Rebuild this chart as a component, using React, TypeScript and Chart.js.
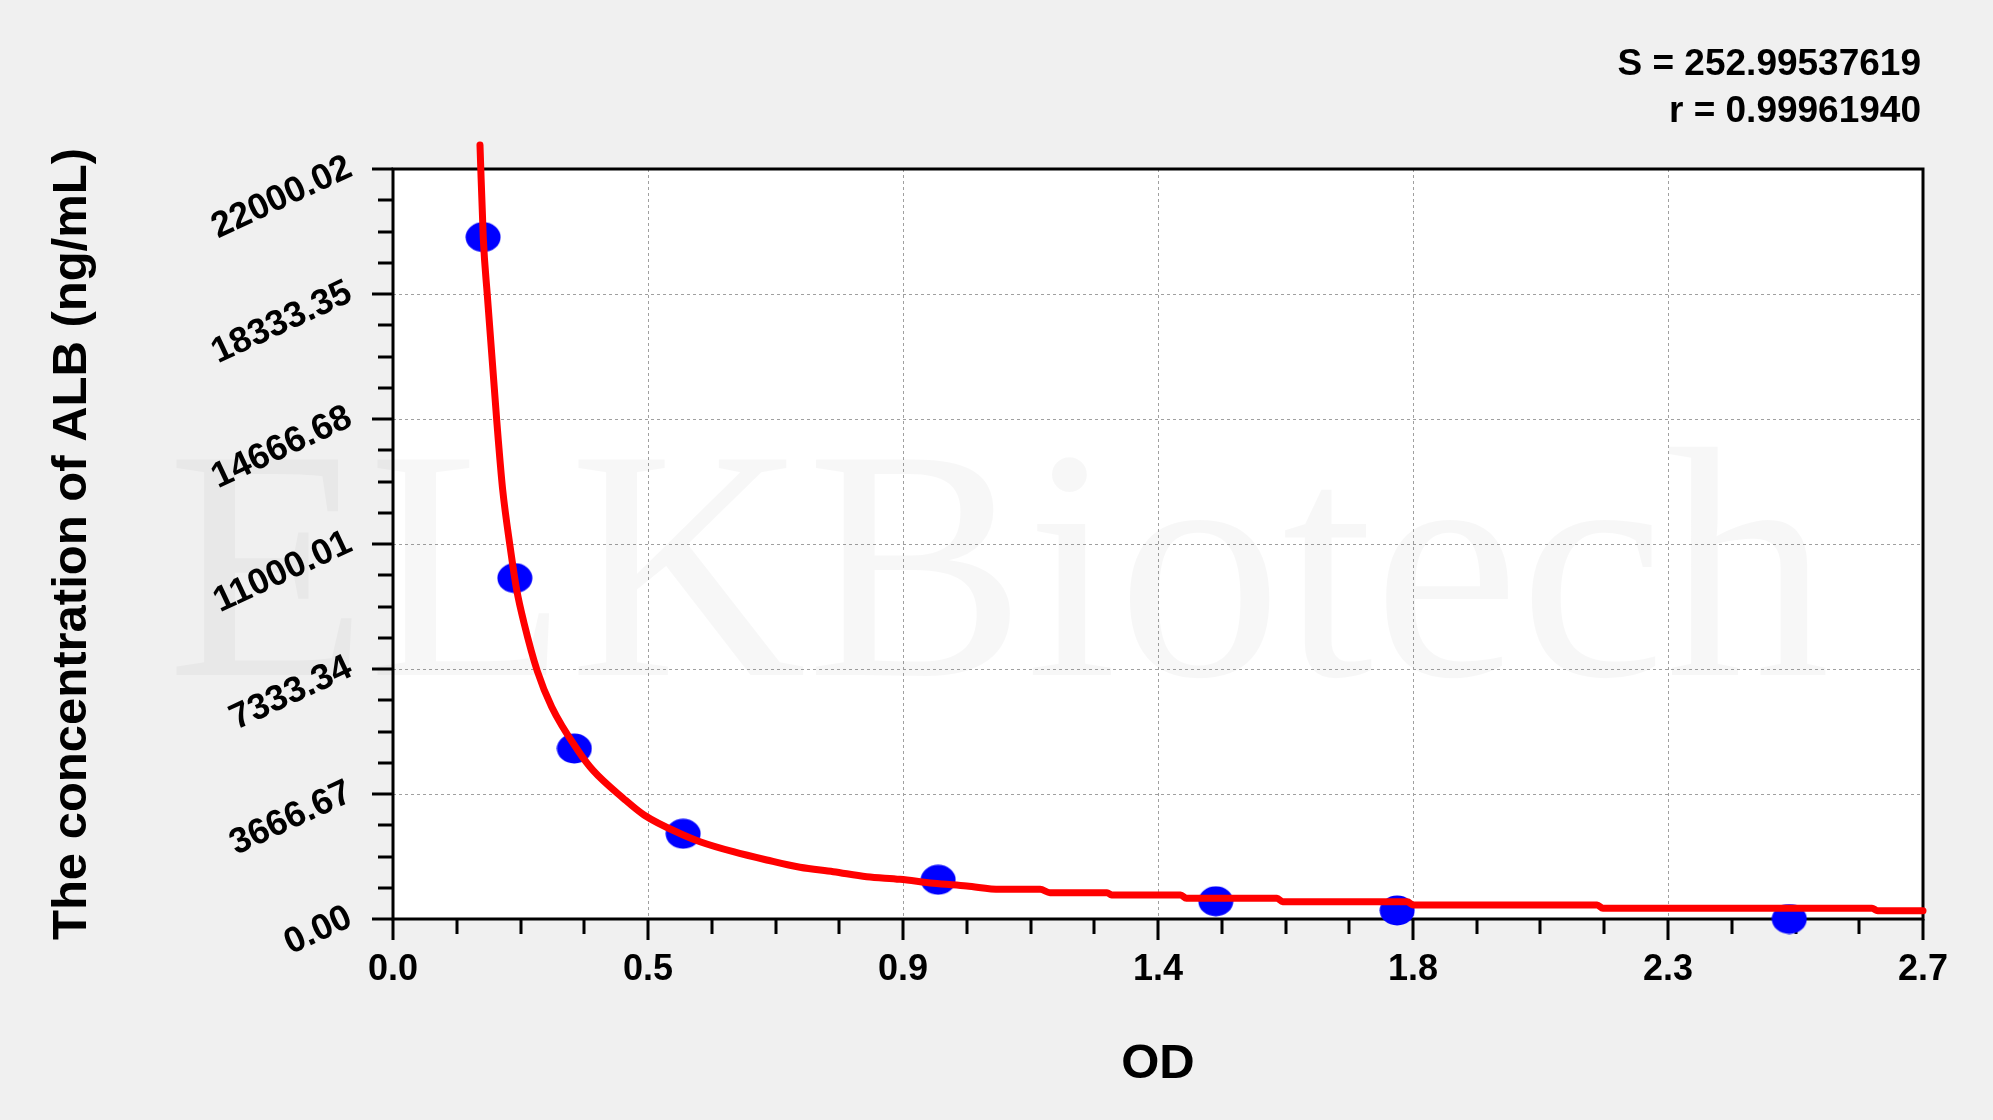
import React, { useEffect, useRef } from "react";
import { Chart, registerables } from "chart.js";

Chart.register(...registerables);

// ---- data ----
const xTickValues = [0, 0.45, 0.9, 1.35, 1.8, 2.25, 2.7];
const xTickLabels = ["0.0", "0.5", "0.9", "1.4", "1.8", "2.3", "2.7"];
const yTickValues = [0, 3666.67, 7333.34, 11000.01, 14666.68, 18333.35, 22000.02];
const yTickLabels = ["0.00", "3666.67", "7333.34", "11000.01", "14666.68", "18333.35", "22000.02"];

const pointOD = [0.159, 0.215, 0.32, 0.512, 0.962, 1.452, 1.772, 2.464];
const pointConc = [20000, 10000, 5000, 2500, 1150, 520, 250, 0];

const curveOD = [
  0.1535, 0.1594, 0.1664, 0.183, 0.1858, 0.1936, 0.2065, 0.2183, 0.2312, 0.2546,
  0.2801, 0.327, 0.3535, 0.4064, 0.443, 0.5123, 0.5418, 0.6005, 0.6595, 0.7182,
  0.777, 0.8359, 0.8947, 0.9535, 1.0124, 1.0712, 1.142, 1.1594, 1.26, 1.268,
  1.39, 1.4, 1.56, 1.57, 1.79, 1.8, 2.125, 2.135, 2.61, 2.62, 2.7,
];
const curveConc = [
  22704, 19947, 18304, 14637, 14051, 12584, 10941, 9651, 8683, 7275,
  6219, 4928, 4350, 3540, 3050, 2464, 2268, 1974, 1731, 1516,
  1388, 1241, 1164, 1047, 968, 871, 871, 772, 772, 704,
  704, 607, 607, 507, 507, 411, 411, 314, 314, 244, 244,
];

const statS = "S = 252.99537619";
const statR = "r = 0.99961940";
const watermark = "ELKBiotech";
const xTitle = "OD";
const yTitle = "The concentration of ALB (ng/mL)";

const SANS = '"Liberation Sans", Arial, sans-serif';

const decor = {
  id: "decor",
  beforeDraw(chart: any) {
    const { ctx, chartArea: a, width, height } = chart;
    ctx.save();
    ctx.fillStyle = "#f0f0f0";
    ctx.fillRect(0, 0, width, height);
    ctx.fillStyle = "#ffffff";
    ctx.fillRect(a.left, a.top, a.right - a.left, a.bottom - a.top);
    ctx.restore();
  },
  beforeDatasetsDraw(chart: any) {
    const { ctx, chartArea: a, scales } = chart;
    const xs = scales.x;
    const ys = scales.y;
    ctx.save();
    // watermark
    ctx.font = '329px "Liberation Serif", "Times New Roman", serif';
    ctx.fillStyle = "rgba(0,0,0,0.03)";
    ctx.textAlign = "left";
    ctx.textBaseline = "alphabetic";
    ctx.fillText(watermark, 167, 675);

    // tick marks
    ctx.strokeStyle = "#000";
    ctx.lineWidth = 3;
    ctx.beginPath();
    for (let i = 0; i < xTickValues.length; i++) {
      const px = Math.round(xs.getPixelForValue(xTickValues[i]));
      ctx.moveTo(px, a.bottom);
      ctx.lineTo(px, a.bottom + 21);
      if (i < xTickValues.length - 1) {
        const step = (xTickValues[i + 1] - xTickValues[i]) / 4;
        for (let k = 1; k < 4; k++) {
          const mx = Math.round(xs.getPixelForValue(xTickValues[i] + k * step));
          ctx.moveTo(mx, a.bottom);
          ctx.lineTo(mx, a.bottom + 15);
        }
      }
    }
    for (let i = 0; i < yTickValues.length; i++) {
      const py = Math.round(ys.getPixelForValue(yTickValues[i]));
      ctx.moveTo(a.left, py);
      ctx.lineTo(a.left - 21, py);
      if (i < yTickValues.length - 1) {
        const step = (yTickValues[i + 1] - yTickValues[i]) / 4;
        for (let k = 1; k < 4; k++) {
          const my = Math.round(ys.getPixelForValue(yTickValues[i] + k * step));
          ctx.moveTo(a.left, my);
          ctx.lineTo(a.left - 15, my);
        }
      }
    }
    ctx.stroke();
    // frame
    ctx.strokeRect(a.left, a.top, a.right - a.left, a.bottom - a.top);
    ctx.restore();
  },
  afterDraw(chart: any) {
    const { ctx } = chart;
    ctx.save();
    ctx.font = `bold 37px ${SANS}`;
    ctx.fillStyle = "#000";
    ctx.textAlign = "right";
    ctx.textBaseline = "alphabetic";
    ctx.fillText(statS, 1921, 75);
    ctx.fillText(statR, 1921, 122);
    ctx.restore();
  },
};

export default function App() {
  const ref = useRef<HTMLCanvasElement | null>(null);

  useEffect(() => {
    if (!ref.current) return;
    const dot = document.createElement("canvas");
    dot.width = 36;
    dot.height = 31;
    const dctx = dot.getContext("2d")!;
    dctx.fillStyle = "#0000ff";
    dctx.beginPath();
    dctx.ellipse(18, 15.5, 17.5, 15, 0, 0, Math.PI * 2);
    dctx.fill();

    const chart = new Chart(ref.current, {
      type: "scatter",
      data: {
        datasets: [
          {
            label: "fit",
            data: curveOD.map((x, i) => ({ x, y: curveConc[i] })),
            showLine: true,
            borderColor: "#ff0000",
            backgroundColor: "#ff0000",
            borderWidth: 7,
            pointRadius: 0,
            pointHoverRadius: 0,
            cubicInterpolationMode: "monotone",
            clip: false,
            order: 0,
            borderJoinStyle: "round",
            borderCapStyle: "round",
          } as any,
          {
            label: "standards",
            data: pointOD.map((x, i) => ({ x, y: pointConc[i] })),
            pointStyle: dot,
            pointRadius: 16,
            backgroundColor: "#0000ff",
            borderWidth: 0,
            clip: false,
            order: 1,
          } as any,
        ],
      },
      options: {
        animation: false,
        responsive: true,
        maintainAspectRatio: false,
        events: [],
        layout: { padding: { top: 169, right: 70, bottom: 0, left: 0 } },
        plugins: { legend: { display: false }, tooltip: { enabled: false } },
        scales: {
          x: {
            type: "linear",
            min: 0,
            max: 2.7,
            afterBuildTicks: (s: any) => {
              s.ticks = xTickValues.map((v) => ({ value: v }));
            },
            afterFit: (s: any) => {
              s.height = 201;
            },
            grid: {
              color: "#a0a0a0",
              lineWidth: 1,
              tickColor: "rgba(0,0,0,0)",
              tickLength: 21,
              drawTicks: true,
            },
            border: { display: false, dash: [3, 3] },
            ticks: {
              callback: (_v: any, i: number) => xTickLabels[i],
              font: { family: SANS, size: 36, weight: "bold" },
              color: "#000",
              padding: 8,
              minRotation: 0,
              maxRotation: 0,
              autoSkip: false,
            },
            title: {
              display: true,
              text: xTitle,
              color: "#000",
              font: { family: SANS, size: 49, weight: "bold" },
              padding: { top: 0, bottom: 26 },
            },
          },
          y: {
            type: "linear",
            min: 0,
            max: 22000.02,
            afterBuildTicks: (s: any) => {
              s.ticks = yTickValues.map((v) => ({ value: v }));
            },
            afterFit: (s: any) => {
              s.width = 393;
            },
            grid: {
              color: "#a0a0a0",
              lineWidth: 1,
              tickColor: "rgba(0,0,0,0)",
              tickLength: 21,
              drawTicks: true,
            },
            border: { display: false, dash: [3, 3] },
            ticks: {
              callback: (_v: any, i: number) => yTickLabels[i],
              font: { family: SANS, size: 36, weight: "bold" },
              color: "#000",
              padding: 22,
              labelOffset: -3,
              minRotation: 25,
              maxRotation: 25,
              autoSkip: false,
            },
            title: {
              display: true,
              text: yTitle,
              color: "#000",
              font: { family: SANS, size: 49, weight: "bold" },
              padding: { top: 43, bottom: 0 },
            },
          },
        },
      } as any,
      plugins: [decor],
    });
    return () => chart.destroy();
  }, []);

  return (
    <div style={{ position: "absolute", left: 0, top: 0, width: 1993, height: 1120, background: "#f0f0f0" }}>
      <canvas ref={ref} />
    </div>
  );
}
